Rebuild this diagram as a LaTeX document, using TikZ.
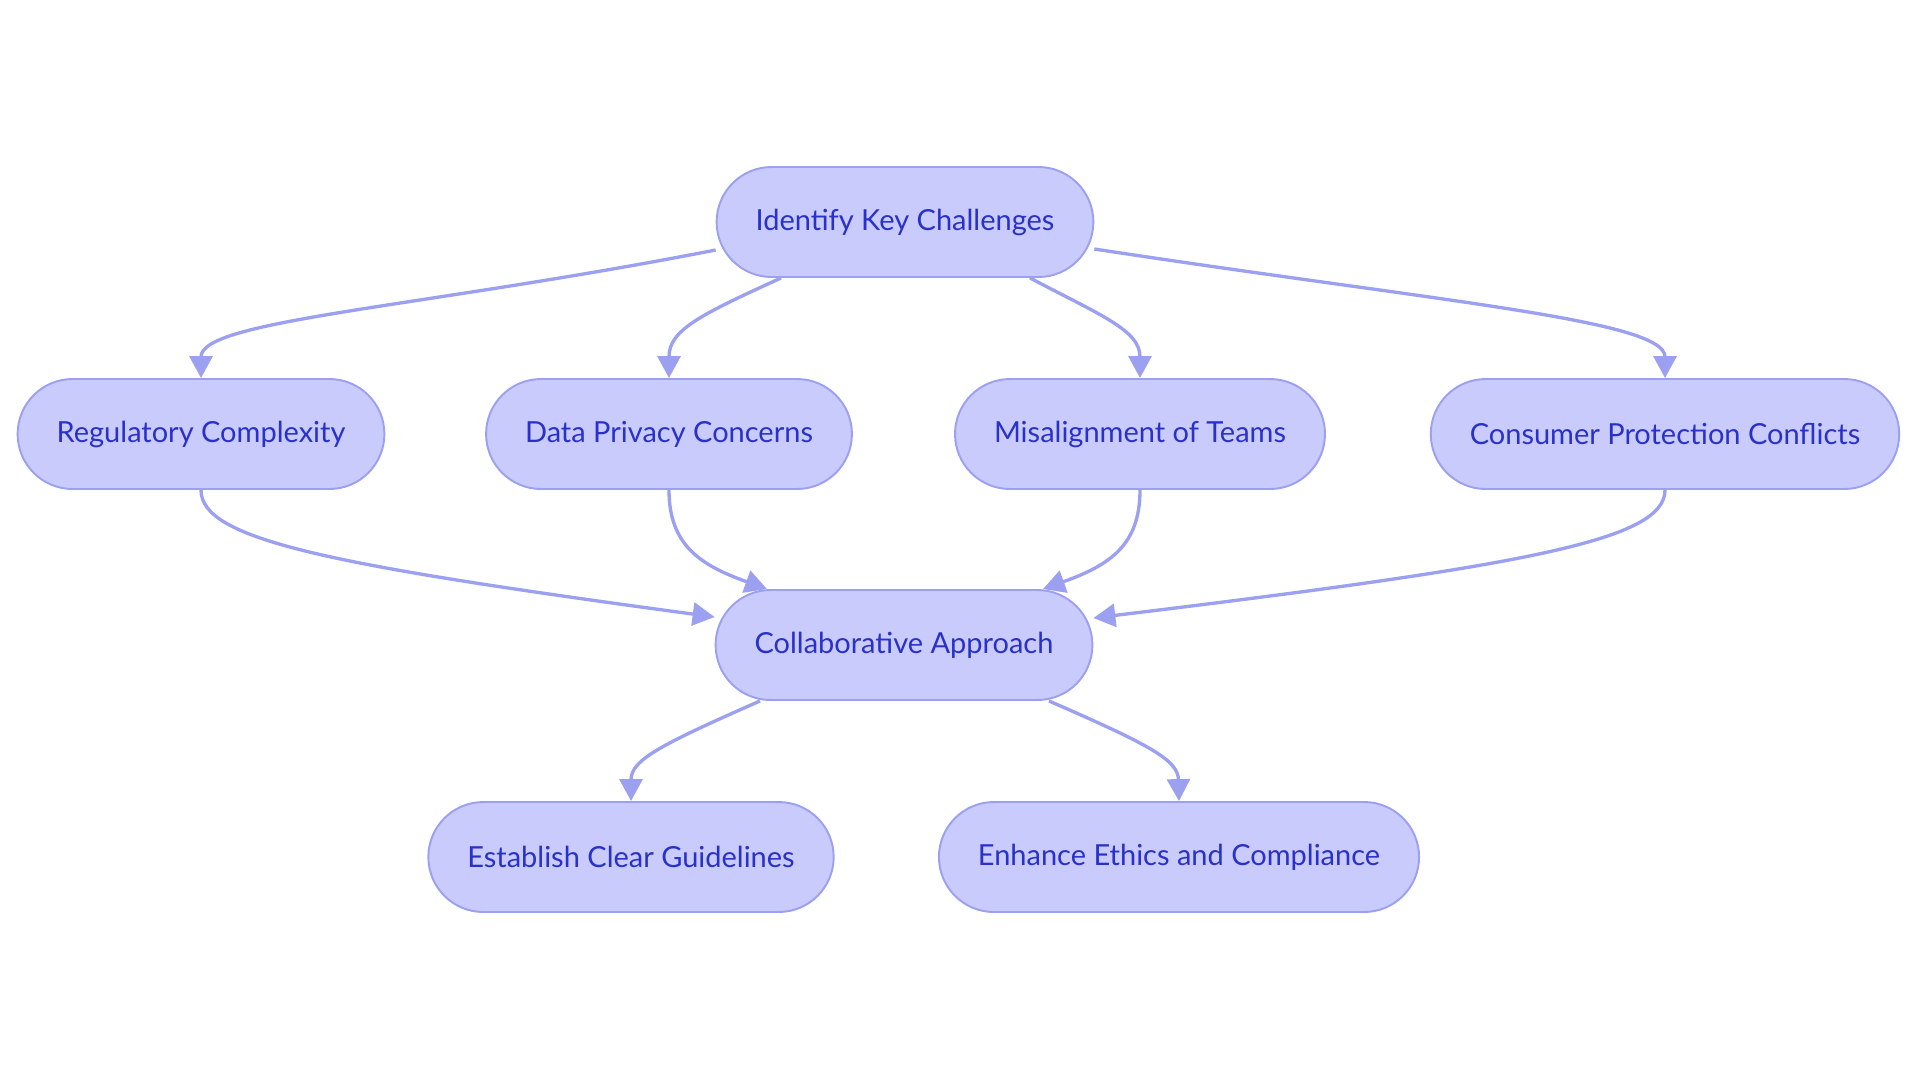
\documentclass[tikz,border=0pt]{standalone}
\usepackage{fontspec}
\setmainfont{Lato}
\usetikzlibrary{arrows.meta}
\definecolor{boxfill}{HTML}{C8CBFB}
\definecolor{boxline}{HTML}{9CA0F0}
\definecolor{boxtext}{HTML}{2A31C9}

\begin{document}
\begin{tikzpicture}[x=0.02cm,y=-0.02cm,
  box/.style={draw=boxline,fill=boxfill,line width=1.1pt,rounded corners=1.1cm,
    minimum height=2.2cm,inner xsep=0.78cm,text=boxtext,font=\fontsize{16.5}{20}\selectfont},
  link/.style={draw=boxline,line width=1.9pt,-{Triangle[length=0.44cm,width=0.46cm]}}]
\useasboundingbox (0,0) rectangle (1920,1083);

\node[box] (ikc) at (905,222) {Identify Key Challenges};
\node[box] (rc)  at (201,434) {Regulatory Complexity};
\node[box] (dpc) at (669,434) {Data Privacy Concerns};
\node[box] (mot) at (1140,434) {Misalignment of Teams};
\node[box] (cpc) at (1665,434) {Consumer Protection Conflicts};
\node[box] (ca)  at (904,645) {Collaborative Approach};
\node[box] (ecg) at (631,857) {Establish Clear Guidelines};
\node[box] (eec) at (1179,857) {Enhance Ethics and Compliance};

% challenges
\draw[link] ([yshift=-0.56cm]ikc.west) .. controls (419,308) and (201,320) .. (rc.north);
\draw[link] ([xshift=-2.48cm]ikc.south) .. controls (700,315) and (669,330) .. (dpc.north);
\draw[link] ([xshift=2.5cm]ikc.south) .. controls (1100,315) and (1140,330) .. (mot.north);
\draw[link] ([yshift=-0.54cm]ikc.east) .. controls (1441,302) and (1665,320) .. (cpc.north);

% into the collaborative approach
\draw[link] (rc.south) .. controls (201,540) and (330,565) .. ([yshift=0.56cm]ca.west);
\draw[link] (dpc.south) .. controls (669,545) and (700,565) .. ([xshift=-2.74cm]ca.north);
\draw[link] (mot.south) .. controls (1140,545) and (1110,565) .. ([xshift=2.78cm]ca.north);
\draw[link] (cpc.south) .. controls (1665,540) and (1530,565) .. ([yshift=0.54cm]ca.east);

% outcomes
\draw[link] ([xshift=-2.88cm]ca.south) .. controls (660,745) and (631,760) .. (ecg.north);
\draw[link] ([xshift=2.9cm]ca.south) .. controls (1150,745) and (1178,760) .. (eec.north);
\end{tikzpicture}
\end{document}
